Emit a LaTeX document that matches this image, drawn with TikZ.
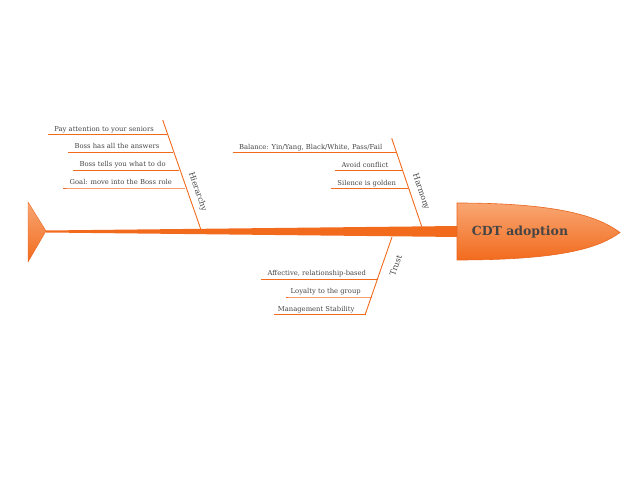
\documentclass[tikz,border=0pt]{standalone}
\usepackage{fontspec}
\setmainfont{DejaVu Serif}
\usepackage{xcolor}
\definecolor{fishorange}{HTML}{F26B1D}
\definecolor{fishlight}{HTML}{F8A673}
\definecolor{fishedge}{HTML}{E9651E}
\definecolor{fishtext}{HTML}{454545}
\tikzset{
  bone/.style={fishorange,line width=0.9pt},
  twig/.style={fishorange,line width=0.8pt},
  cause/.style={inner sep=0pt,anchor=base east,text=fishtext,font=\fontsize{6.8}{8}\selectfont},
  bonelabel/.style={inner sep=0pt,text=fishtext,font=\fontsize{8}{9}\selectfont},
}

\begin{document}
\begin{tikzpicture}[x=1pt,y=-1pt]
\useasboundingbox (0,0) rectangle (638,478);
% spine, tail and head
\fill[fishorange] (46,230.5) -- (458,226) -- (458,237) -- (46,232.5) -- cycle;
\draw[fishedge,line width=0.4pt,top color=fishlight,bottom color=fishorange] (28,202) -- (46,231) -- (28,262) -- cycle;
\draw[fishedge,line width=0.6pt,top color=fishlight,bottom color=fishorange] (457,203) .. controls (565,203) and (600,218) .. (620,232.5) .. controls (600,247) and (565,260) .. (457,260) -- cycle;
\node[text=fishtext,font=\bfseries\fontsize{12.5}{14}\selectfont] (effect) at (520,232) {CDT adoption};

% Hierarchy
\coordinate (hiertop) at (162.7,120);
\coordinate (hierfoot) at (200.7,229);
\draw[bone] (hiertop) -- (hierfoot);
\node[bonelabel,rotate=-70.8] (hierlabel) at (197.5,191.7) {Hierarchy};
\coordinate (h1) at (167,134.7);
\coordinate (h2) at (172.5,152.3);
\coordinate (h3) at (178.8,170.3);
\coordinate (h4) at (185,188);
\node[cause] (seniors) at ([shift={(-13,-3.5)}]h1) {Pay attention to your seniors};
\node[cause] (answers) at ([shift={(-13,-3.5)}]h2) {Boss has all the answers};
\node[cause] (tells) at ([shift={(-13,-3.5)}]h3) {Boss tells you what to do};
\node[cause] (goal) at ([shift={(-13,-3.5)}]h4) {Goal: move into the Boss role};
\draw[twig] (h1) -- (seniors.west |- h1) -- ++(-6,0);
\draw[twig] (h2) -- (answers.west |- h2) -- ++(-6,0);
\draw[twig] (h3) -- (tells.west |- h3) -- ++(-6,0);
\draw[twig] (h4) -- (goal.west |- h4) -- ++(-6,0);

% Harmony
\coordinate (harmtop) at (391.7,138.3);
\coordinate (harmfoot) at (421.7,226.5);
\draw[bone] (harmtop) -- (harmfoot);
\node[bonelabel,rotate=-71.2] (harmlabel) at (420.8,191.7) {Harmony};
\coordinate (m1) at (396.5,152.7);
\coordinate (m2) at (402.5,170.7);
\coordinate (m3) at (408.3,188.7);
\node[cause] (balance) at ([shift={(-14,-3.5)}]m1) {Balance: Yin/Yang, Black/White, Pass/Fail};
\node[cause] (conflict) at ([shift={(-14,-3.5)}]m2) {Avoid conflict};
\node[cause] (silence) at ([shift={(-12,-3.5)}]m3) {Silence is golden};
\draw[twig] (m1) -- (balance.west |- m1) -- ++(-6,0);
\draw[twig] (m2) -- (conflict.west |- m2) -- ++(-6,0);
\draw[twig] (m3) -- (silence.west |- m3) -- ++(-6,0);

% Trust
\coordinate (trustfoot) at (365,315);
\coordinate (trusttop) at (392,237);
\draw[bone] (trustfoot) -- (trusttop);
\node[bonelabel,rotate=70.8] (trustlabel) at (395.8,265.8) {Trust};
\coordinate (t1) at (378.3,279.3);
\coordinate (t2) at (372,297);
\coordinate (t3) at (365.6,314.7);
\node[cause] (affective) at ([shift={(-12,-3.5)}]t1) {Affective, relationship-based};
\node[cause] (loyalty) at ([shift={(-11,-3.5)}]t2) {Loyalty to the group};
\node[cause] (stability) at ([shift={(-11,-3.5)}]t3) {Management Stability};
\draw[twig] (t1) -- (affective.west |- t1) -- ++(-6,0);
\draw[twig] (t2) -- (loyalty.west |- t2) -- ++(-4,0);
\draw[twig] (t3) -- (stability.west |- t3) -- ++(-4,0);
\end{tikzpicture}
\end{document}
